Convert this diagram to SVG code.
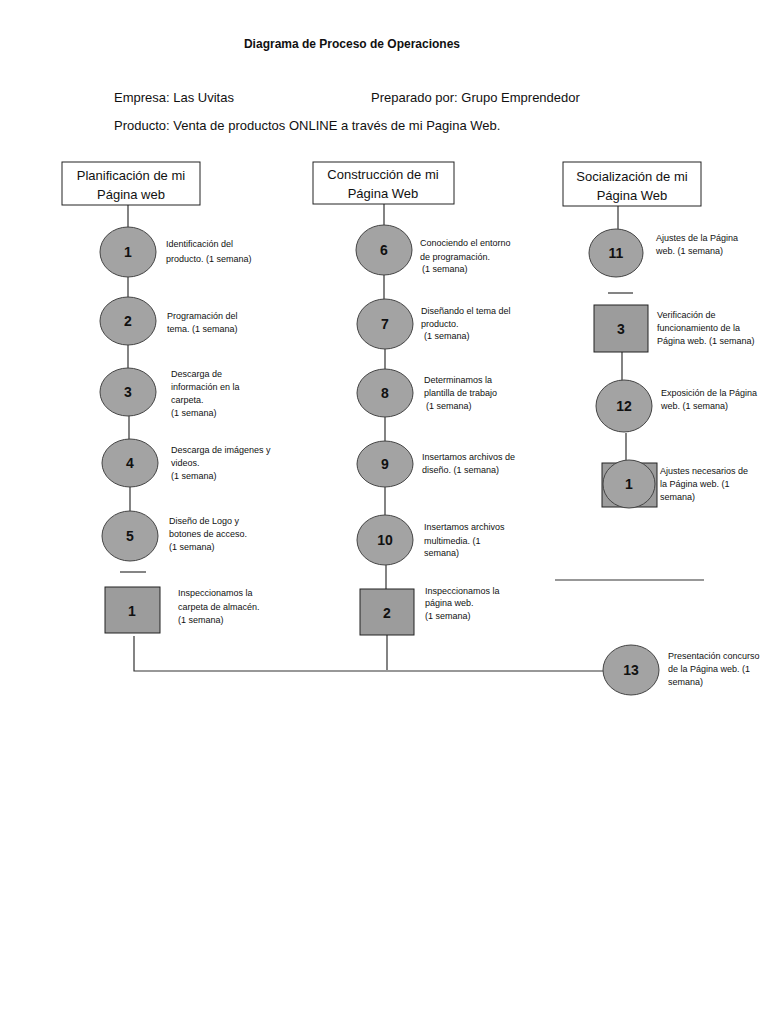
<svg xmlns="http://www.w3.org/2000/svg" width="768" height="1024" viewBox="0 0 768 1024">
<style>
text{font-family:"Liberation Sans",Arial,sans-serif;fill:#111}
.t{font-size:12px;font-weight:bold}
.h{font-size:13px}
.bx{font-size:13px;text-anchor:middle}
.lb{font-size:9px}
.n{font-size:14px;font-weight:bold;text-anchor:middle}
.box{fill:#fff;stroke:#222;stroke-width:1}
.c{fill:#a3a3a3;stroke:#444;stroke-width:1}
.sq{fill:#9c9c9c;stroke:#222;stroke-width:1}
.ln{stroke:#333;stroke-width:1.2;fill:none}
</style>
<rect width="768" height="1024" fill="#fff"/>
<text class="t" x="352" y="48" text-anchor="middle">Diagrama de Proceso de Operaciones</text>
<text class="h" x="114" y="102">Empresa: Las Uvitas</text>
<text class="h" x="371" y="102">Preparado por: Grupo Emprendedor</text>
<text class="h" x="114" y="130">Producto: Venta de productos ONLINE a través de mi Pagina Web.</text>

<g id="connectors">
<path class="ln" d="M128 205V228M128 277V297M128 345V368M129 415V440M130 487V511"/>
<path class="ln" d="M120 572H146"/>
<path class="ln" d="M134 636V671H604"/>
<path class="ln" d="M384 204V225M384 275V300M385 349V372M385 416V442M385 487V515M386 565V589M387 635V670"/>
<path class="ln" d="M618 206V229"/>
<path class="ln" d="M608 293H633"/>
<path class="ln" d="M622 352V381M626 433V460"/>
<path class="ln" d="M555 580H704"/>
</g>

<g id="box-planificacion"><rect class="box" x="62" y="162" width="138" height="43"/><text class="bx" x="131" y="180">Planificación de mi</text><text class="bx" x="131" y="199">Página web</text></g>
<g id="box-construccion"><rect class="box" x="313" y="162" width="141" height="42"/><text class="bx" x="383" y="179">Construcción de mi</text><text class="bx" x="383" y="198">Página Web</text></g>
<g id="box-socializacion"><rect class="box" x="563" y="162" width="138" height="44"/><text class="bx" x="632" y="181">Socialización de mi</text><text class="bx" x="632" y="200">Página Web</text></g>

<g id="n1"><ellipse class="c" cx="128" cy="252" rx="28" ry="25"/><text class="n" x="128" y="257">1</text>
<text class="lb" x="166" y="247">Identificación del</text><text class="lb" x="166" y="262">producto. (1 semana)</text></g>
<g id="n2"><ellipse class="c" cx="128" cy="321" rx="28" ry="24"/><text class="n" x="128" y="326">2</text>
<text class="lb" x="167" y="319">Programación del</text><text class="lb" x="167" y="332">tema. (1 semana)</text></g>
<g id="n3"><ellipse class="c" cx="128" cy="392" rx="28" ry="24"/><text class="n" x="128" y="397">3</text>
<text class="lb" x="171" y="377">Descarga de</text><text class="lb" x="171" y="390">información en la</text><text class="lb" x="171" y="403">carpeta.</text><text class="lb" x="171" y="416">(1 semana)</text></g>
<g id="n4"><ellipse class="c" cx="130" cy="463" rx="28" ry="24"/><text class="n" x="130" y="468">4</text>
<text class="lb" x="171" y="453">Descarga de imágenes y</text><text class="lb" x="171" y="466">videos.</text><text class="lb" x="171" y="479">(1 semana)</text></g>
<g id="n5"><ellipse class="c" cx="130" cy="536" rx="28" ry="25"/><text class="n" x="130" y="541">5</text>
<text class="lb" x="169" y="524">Diseño de Logo y</text><text class="lb" x="169" y="537">botones de acceso.</text><text class="lb" x="169" y="550">(1 semana)</text></g>
<g id="i1"><rect class="sq" x="105" y="587" width="55" height="46"/><text class="n" x="132" y="616">1</text>
<text class="lb" x="178" y="596">Inspeccionamos la</text><text class="lb" x="178" y="610">carpeta de almacén.</text><text class="lb" x="178" y="623">(1 semana)</text></g>

<g id="n6"><ellipse class="c" cx="384" cy="250" rx="28" ry="25"/><text class="n" x="384" y="255">6</text>
<text class="lb" x="420" y="246">Conociendo el entorno</text><text class="lb" x="420" y="260">de programación.</text><text class="lb" x="422" y="272">(1 semana)</text></g>
<g id="n7"><ellipse class="c" cx="385" cy="324" rx="28" ry="25"/><text class="n" x="385" y="329">7</text>
<text class="lb" x="421" y="314">Diseñando el tema del</text><text class="lb" x="421" y="327">producto.</text><text class="lb" x="424" y="339">(1 semana)</text></g>
<g id="n8"><ellipse class="c" cx="385" cy="393" rx="28" ry="24"/><text class="n" x="385" y="398">8</text>
<text class="lb" x="424" y="383">Determinamos la</text><text class="lb" x="424" y="396">plantilla de trabajo</text><text class="lb" x="426" y="409">(1 semana)</text></g>
<g id="n9"><ellipse class="c" cx="385" cy="464" rx="28" ry="23"/><text class="n" x="385" y="469">9</text>
<text class="lb" x="422" y="460">Insertamos archivos de</text><text class="lb" x="422" y="473">diseño. (1 semana)</text></g>
<g id="n10"><ellipse class="c" cx="385" cy="540" rx="28" ry="25"/><text class="n" x="385" y="545">10</text>
<text class="lb" x="424" y="530">Insertamos archivos</text><text class="lb" x="424" y="544">multimedia. (1</text><text class="lb" x="424" y="556">semana)</text></g>
<g id="i2"><rect class="sq" x="360" y="589" width="54" height="46"/><text class="n" x="387" y="618">2</text>
<text class="lb" x="425" y="594">Inspeccionamos la</text><text class="lb" x="425" y="606">página web.</text><text class="lb" x="425" y="619">(1 semana)</text></g>

<g id="n11"><ellipse class="c" cx="616" cy="253" rx="27" ry="24"/><text class="n" x="616" y="258">11</text>
<text class="lb" x="656" y="241">Ajustes de la Página</text><text class="lb" x="656" y="254">web. (1 semana)</text></g>
<g id="i3"><rect class="sq" x="594" y="305" width="54" height="47"/><text class="n" x="621" y="334">3</text>
<text class="lb" x="657" y="318">Verificación de</text><text class="lb" x="657" y="331">funcionamiento de la</text><text class="lb" x="657" y="344">Página web. (1 semana)</text></g>
<g id="n12"><ellipse class="c" cx="624" cy="406" rx="28" ry="26"/><text class="n" x="624" y="411">12</text>
<text class="lb" x="661" y="396">Exposición de la Página</text><text class="lb" x="661" y="409">web. (1 semana)</text></g>
<g id="c1"><rect class="sq" x="602" y="463" width="55" height="44"/><ellipse class="c" cx="629" cy="484" rx="26" ry="24"/><text class="n" x="629" y="489">1</text>
<text class="lb" x="660" y="474">Ajustes necesarios de</text><text class="lb" x="660" y="487">la Página web. (1</text><text class="lb" x="660" y="500">semana)</text></g>
<g id="n13"><ellipse class="c" cx="631" cy="670" rx="28" ry="25"/><text class="n" x="631" y="675">13</text>
<text class="lb" x="668" y="659">Presentación concurso</text><text class="lb" x="668" y="672">de la Página web. (1</text><text class="lb" x="668" y="685">semana)</text></g>
</svg>
